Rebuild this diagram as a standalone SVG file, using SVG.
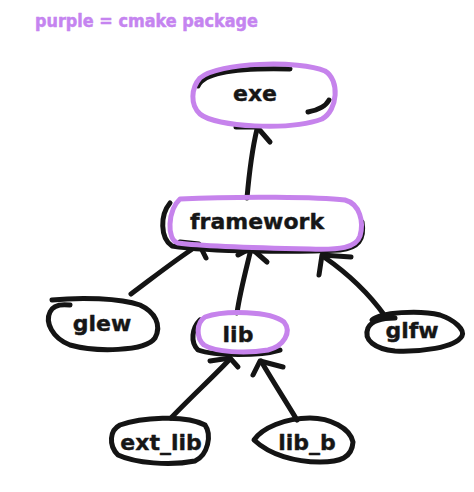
<svg xmlns="http://www.w3.org/2000/svg" width="474" height="492" viewBox="0 0 474 492">
<style>
.blk{fill:none;stroke:#141414;stroke-width:5;stroke-linecap:round;stroke-linejoin:round}
.pur{fill:none;stroke:#c683ec;stroke-width:5;stroke-linecap:round;stroke-linejoin:round}
.lbl{font-family:"DejaVu Sans",sans-serif;font-weight:bold;font-size:22px;fill:#161616;stroke:#161616;stroke-width:0.4;stroke-linejoin:round;text-anchor:middle}
.title{font-family:"DejaVu Sans",sans-serif;font-weight:bold;font-size:17px;fill:#c584f0;stroke:#c584f0;stroke-width:0.5;stroke-linejoin:round}
</style>
<rect width="474" height="492" fill="#ffffff"/>
<text class="title" x="35" y="27" textLength="223" lengthAdjust="spacingAndGlyphs">purple = cmake package</text>

<g id="connectors">
  <g id="e-framework-exe">
    <path class="blk" d="M247,198 C249,175 252,150 257,129"/>
    <path class="blk" d="M236,127 L257,127 L270,142"/>
  </g>
  <g id="e-glew-framework">
    <path class="blk" d="M131,294 C150,280 175,260 197,246"/>
    <path class="blk" d="M180,242 L199,244 L206,258"/>
  </g>
  <g id="e-lib-framework">
    <path class="blk" d="M237,313 C240,292 246,270 251,249"/>
    <path class="blk" d="M238,255 L251,248 L267,262"/>
  </g>
  <g id="e-glfw-framework">
    <path class="blk" d="M385,316 C370,295 350,275 324,257"/>
    <path class="blk" d="M351,257 L322,255 L319,275"/>
  </g>
  <g id="e-extlib-lib">
    <path class="blk" d="M171,418 C190,398 212,378 230,359"/>
    <path class="blk" d="M210,361 L230,358 L238,367"/>
  </g>
  <g id="e-libb-lib">
    <path class="blk" d="M297,420 C285,400 272,380 261,361"/>
    <path class="blk" d="M253,375 L260,361 L283,367"/>
  </g>
</g>

<g id="exe">
  <path class="blk" d="M198,86 C205,70 250,68 290,69 M308,112 C318,110 326,106 329,100"/>
  <path class="pur" d="M200,78 C218,62 300,60 325,71 C340,80 338,110 322,119 C290,131 215,127 200,114 C190,105 191,88 200,78 Z"/>
  <text class="lbl" x="255" y="101">exe</text>
</g>

<g id="framework">
  <path class="blk" d="M170,203 C160,215 160,238 172,246 C210,252 300,252 340,250 C358,248 365,240 362,222"/>
  <path class="pur" d="M180,199 C240,196 320,197 345,200 C360,204 364,222 360,236 C356,248 340,250 310,249 C260,248 200,246 178,243 C166,240 168,210 180,199 Z"/>
  <text class="lbl" x="257" y="229">framework</text>
</g>

<g id="glew">
  <path class="blk" d="M52,300 C80,297 120,298 140,305 C155,312 162,325 155,338 C145,352 95,352 70,345 C52,338 45,322 50,312 C53,305 62,304 70,305"/>
  <text class="lbl" x="102" y="331">glew</text>
</g>

<g id="lib">
  <path class="blk" d="M200,320 C192,328 190,342 198,350 C215,356 260,356 280,350"/>
  <path class="pur" d="M205,317 C225,310 270,311 284,322 C292,332 284,346 268,350 C245,354 215,352 204,345 C196,338 196,323 205,317 Z"/>
  <text class="lbl" x="238" y="342">lib</text>
</g>

<g id="glfw">
  <path class="blk" d="M372,320 C380,312 420,310 440,315 C455,320 465,330 462,336 C455,348 420,352 395,351 C375,349 363,340 368,328 C372,320 385,318 395,318"/>
  <text class="lbl" x="412" y="338">glfw</text>
</g>

<g id="ext_lib">
  <path class="blk" d="M120,425 C140,418 185,414 205,425 C212,435 208,455 195,461 C170,466 135,463 118,455 C108,445 110,430 120,425 Z"/>
  <text class="lbl" x="161" y="450">ext_lib</text>
</g>

<g id="lib_b">
  <path class="blk" d="M254,440 C262,428 285,418 310,418 C330,418 350,428 353,442 C352,458 340,462 320,462 C295,462 270,455 254,440 Z"/>
  <text class="lbl" x="307" y="450">lib_b</text>
</g>
</svg>
